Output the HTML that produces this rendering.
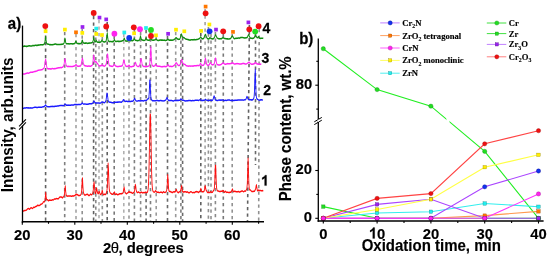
<!DOCTYPE html>
<html><head><meta charset="utf-8"><style>
html,body{margin:0;padding:0;background:#fff;}
svg{display:block;}
svg{will-change:transform;}
.tk{font-family:"Liberation Sans",sans-serif;font-weight:bold;font-size:14.8px;fill:#000;stroke:#000;stroke-width:0.15px;}
.lb{font-family:"Liberation Sans",sans-serif;font-weight:bold;font-size:13px;fill:#000;stroke:#000;stroke-width:0.25px;}
.lg{font-family:"Liberation Serif",serif;font-weight:bold;font-size:8.6px;fill:#000;stroke:#000;stroke-width:0.15px;}
</style></head><body>
<svg width="550" height="261" viewBox="0 0 550 261">
<rect width="550" height="261" fill="#fff"/>
<line x1="45.6" y1="29" x2="45.6" y2="221" stroke="#000" stroke-opacity="0.62" stroke-width="1.6" stroke-dasharray="3.2,3.3" stroke-dashoffset="0"/>
<line x1="64.7" y1="32" x2="64.7" y2="221" stroke="#000" stroke-opacity="0.50" stroke-width="1.6" stroke-dasharray="3.2,3.3" stroke-dashoffset="0"/>
<line x1="76.0" y1="34" x2="76.0" y2="221" stroke="#000" stroke-opacity="0.37" stroke-width="1.6" stroke-dasharray="3.2,3.3" stroke-dashoffset="0"/>
<line x1="82.2" y1="29" x2="82.2" y2="221" stroke="#000" stroke-opacity="0.43" stroke-width="1.6" stroke-dasharray="3.2,3.3" stroke-dashoffset="0"/>
<line x1="93.6" y1="16" x2="93.6" y2="221" stroke="#000" stroke-opacity="0.62" stroke-width="1.6" stroke-dasharray="3.2,3.3" stroke-dashoffset="0"/>
<line x1="95.8" y1="31" x2="95.8" y2="221" stroke="#000" stroke-opacity="0.46" stroke-width="1.6" stroke-dasharray="3.2,3.3" stroke-dashoffset="0"/>
<line x1="99.0" y1="20" x2="99.0" y2="221" stroke="#000" stroke-opacity="0.31" stroke-width="1.6" stroke-dasharray="3.2,3.3" stroke-dashoffset="0"/>
<line x1="102.3" y1="37" x2="102.3" y2="221" stroke="#000" stroke-opacity="0.43" stroke-width="1.6" stroke-dasharray="3.2,3.3" stroke-dashoffset="0"/>
<line x1="107.2" y1="22" x2="107.2" y2="221" stroke="#000" stroke-opacity="0.62" stroke-width="1.6" stroke-dasharray="3.2,3.3" stroke-dashoffset="0"/>
<line x1="114.2" y1="36" x2="114.2" y2="221" stroke="#000" stroke-opacity="0.53" stroke-width="1.6" stroke-dasharray="3.2,3.3" stroke-dashoffset="0"/>
<line x1="123.8" y1="34" x2="123.8" y2="221" stroke="#000" stroke-opacity="0.31" stroke-width="1.6" stroke-dasharray="3.2,3.3" stroke-dashoffset="0"/>
<line x1="129.0" y1="40" x2="129.0" y2="221" stroke="#000" stroke-opacity="0.40" stroke-width="1.6" stroke-dasharray="3.2,3.3" stroke-dashoffset="0"/>
<line x1="134.4" y1="30" x2="134.4" y2="221" stroke="#000" stroke-opacity="0.50" stroke-width="1.6" stroke-dasharray="3.2,3.3" stroke-dashoffset="0"/>
<line x1="140.6" y1="32" x2="140.6" y2="221" stroke="#000" stroke-opacity="0.46" stroke-width="1.6" stroke-dasharray="3.2,3.3" stroke-dashoffset="0"/>
<line x1="146.1" y1="30" x2="146.1" y2="221" stroke="#000" stroke-opacity="0.59" stroke-width="1.6" stroke-dasharray="3.2,3.3" stroke-dashoffset="0"/>
<line x1="150.5" y1="32" x2="150.5" y2="221" stroke="#000" stroke-opacity="0.50" stroke-width="1.6" stroke-dasharray="3.2,3.3" stroke-dashoffset="0"/>
<line x1="156.2" y1="37" x2="156.2" y2="221" stroke="#000" stroke-opacity="0.40" stroke-width="1.6" stroke-dasharray="3.2,3.3" stroke-dashoffset="0"/>
<line x1="167.5" y1="36" x2="167.5" y2="221" stroke="#000" stroke-opacity="0.59" stroke-width="1.6" stroke-dasharray="3.2,3.3" stroke-dashoffset="0"/>
<line x1="175.7" y1="32" x2="175.7" y2="221" stroke="#000" stroke-opacity="0.40" stroke-width="1.6" stroke-dasharray="3.2,3.3" stroke-dashoffset="0"/>
<line x1="180.9" y1="34" x2="180.9" y2="221" stroke="#000" stroke-opacity="0.50" stroke-width="1.6" stroke-dasharray="3.2,3.3" stroke-dashoffset="0"/>
<line x1="182.6" y1="34" x2="182.6" y2="221" stroke="#000" stroke-opacity="0.59" stroke-width="1.6" stroke-dasharray="3.2,3.3" stroke-dashoffset="3.2"/>
<line x1="200.8" y1="33" x2="200.8" y2="221" stroke="#000" stroke-opacity="0.62" stroke-width="1.6" stroke-dasharray="3.2,3.3" stroke-dashoffset="0"/>
<line x1="205.1" y1="9" x2="205.1" y2="188" stroke="#000" stroke-opacity="0.37" stroke-width="1.6" stroke-dasharray="3.2,3.3" stroke-dashoffset="0"/>
<line x1="208.4" y1="27" x2="208.4" y2="221" stroke="#000" stroke-opacity="0.43" stroke-width="1.6" stroke-dasharray="3.2,3.3" stroke-dashoffset="0"/>
<line x1="211.0" y1="34" x2="211.0" y2="221" stroke="#000" stroke-opacity="0.43" stroke-width="1.6" stroke-dasharray="3.2,3.3" stroke-dashoffset="0"/>
<line x1="215.4" y1="32" x2="215.4" y2="221" stroke="#000" stroke-opacity="0.46" stroke-width="1.6" stroke-dasharray="3.2,3.3" stroke-dashoffset="0"/>
<line x1="223.3" y1="34" x2="223.3" y2="221" stroke="#000" stroke-opacity="0.53" stroke-width="1.6" stroke-dasharray="3.2,3.3" stroke-dashoffset="0"/>
<line x1="232.2" y1="34" x2="232.2" y2="221" stroke="#000" stroke-opacity="0.43" stroke-width="1.6" stroke-dasharray="3.2,3.3" stroke-dashoffset="0"/>
<line x1="249.4" y1="25" x2="247.5" y2="221" stroke="#000" stroke-opacity="0.62" stroke-width="1.6" stroke-dasharray="3.2,3.3" stroke-dashoffset="0"/>
<line x1="255.5" y1="34" x2="255.5" y2="165" stroke="#000" stroke-opacity="0.59" stroke-width="1.6" stroke-dasharray="3.2,3.3" stroke-dashoffset="0"/>
<line x1="259.2" y1="29" x2="258.7" y2="221" stroke="#000" stroke-opacity="0.43" stroke-width="1.6" stroke-dasharray="3.2,3.3" stroke-dashoffset="0"/>
<g transform="scale(0.6,1)"><polyline points="37.50,210.91 38.17,210.97 38.83,211.01 39.50,210.89 40.17,210.82 40.83,210.55 41.50,210.39 42.17,210.47 42.83,210.37 43.50,210.24 44.17,210.11 44.83,209.69 45.50,209.20 46.17,208.83 46.83,208.62 47.50,208.47 48.17,208.78 48.83,209.21 49.50,209.18 50.17,208.61 50.83,208.05 51.50,207.90 52.17,207.77 52.83,207.88 53.50,208.21 54.17,208.43 54.83,208.05 55.50,207.54 56.17,207.30 56.83,207.35 57.50,207.44 58.17,207.10 58.83,206.68 59.50,206.51 60.17,206.41 60.83,206.31 61.50,205.91 62.17,205.50 62.83,205.21 63.50,205.42 64.17,205.55 64.83,205.62 65.50,205.61 66.17,205.31 66.83,205.02 67.50,204.53 68.17,204.29 68.83,204.19 69.50,203.90 70.17,203.72 70.83,203.37 71.50,202.77 72.17,202.09 72.83,201.77 73.50,201.84 74.17,201.79 74.83,200.56 75.50,197.07 76.17,192.46 76.83,196.25 77.50,199.28 78.17,199.70 78.83,199.69 79.50,199.87 80.17,200.50 80.83,200.81 81.50,200.47 82.17,200.32 82.83,200.06 83.50,200.26 84.17,200.29 84.83,200.33 85.50,200.37 86.17,200.20 86.83,200.06 87.50,199.71 88.17,199.89 88.83,199.88 89.50,199.73 90.17,199.20 90.83,198.92 91.50,199.11 92.17,199.09 92.83,199.06 93.50,198.80 94.17,198.55 94.83,198.63 95.50,198.82 96.17,198.87 96.83,198.82 97.50,198.71 98.17,198.08 98.83,197.51 99.50,197.19 100.17,197.11 100.83,197.07 101.50,196.97 102.17,197.02 102.83,197.27 103.50,197.51 104.17,197.91 104.83,197.33 105.50,196.94 106.17,196.57 106.83,196.03 107.50,194.01 108.17,188.71 108.83,186.08 109.50,191.27 110.17,194.69 110.83,195.80 111.50,196.11 112.17,196.16 112.83,196.05 113.50,196.00 114.17,196.00 114.83,195.99 115.50,196.09 116.17,196.09 116.83,196.11 117.50,195.99 118.17,196.10 118.83,196.31 119.50,196.33 120.17,195.99 120.83,195.87 121.50,195.88 122.17,196.04 122.83,195.96 123.50,195.77 124.17,195.61 124.83,195.50 125.50,195.36 126.17,194.59 126.83,194.03 127.50,194.56 128.17,194.72 128.83,194.64 129.50,194.60 130.17,195.19 130.83,195.48 131.50,195.54 132.17,195.52 132.83,195.53 133.50,195.38 134.17,195.10 134.83,194.53 135.50,193.46 136.17,190.08 136.83,181.85 137.50,178.07 138.17,186.40 138.83,191.73 139.50,193.47 140.17,194.37 140.83,195.08 141.50,195.06 142.17,195.04 142.83,194.90 143.50,194.63 144.17,194.46 144.83,194.34 145.50,194.20 146.17,194.47 146.83,194.96 147.50,195.43 148.17,195.36 148.83,195.54 149.50,195.18 150.17,194.62 150.83,194.10 151.50,194.34 152.17,194.68 152.83,194.81 153.50,194.28 154.17,193.71 154.83,192.65 155.50,189.70 156.17,184.13 156.83,182.02 157.50,187.16 158.17,191.54 158.83,193.20 159.50,193.28 160.17,191.39 160.83,188.11 161.50,189.23 162.17,191.86 162.83,193.09 163.50,193.74 164.17,193.52 164.83,191.77 165.50,191.47 166.17,192.97 166.83,194.13 167.50,194.52 168.17,194.33 168.83,193.89 169.50,192.86 170.17,190.55 170.83,190.86 171.50,193.64 172.17,194.56 172.83,194.73 173.50,194.52 174.17,194.15 174.83,194.34 175.50,194.43 176.17,194.24 176.83,193.48 177.50,192.56 178.17,191.06 178.83,186.68 179.50,175.93 180.17,163.27 180.83,169.24 181.50,182.54 182.17,189.46 182.83,191.65 183.50,192.48 184.17,193.16 184.83,193.38 185.50,193.70 186.17,194.01 186.83,194.18 187.50,194.33 188.17,194.10 188.83,193.75 189.50,193.37 190.17,192.70 190.83,192.06 191.50,193.25 192.17,194.33 192.83,194.54 193.50,194.28 194.17,193.86 194.83,194.20 195.50,194.58 196.17,194.82 196.83,194.58 197.50,194.60 198.17,194.19 198.83,193.94 199.50,193.68 200.17,193.67 200.83,193.68 201.50,193.68 202.17,193.69 202.83,193.57 203.50,193.63 204.17,193.37 204.83,192.97 205.50,191.74 206.17,189.14 206.83,187.13 207.50,189.13 208.17,191.55 208.83,192.67 209.50,193.14 210.17,193.49 210.83,193.73 211.50,193.44 212.17,193.12 212.83,192.82 213.50,192.68 214.17,192.18 214.83,191.66 215.50,191.80 216.17,192.35 216.83,192.42 217.50,192.34 218.17,192.25 218.83,192.45 219.50,192.68 220.17,193.08 220.83,193.34 221.50,193.05 222.17,192.70 222.83,192.43 223.50,192.18 224.17,191.08 224.83,187.98 225.50,184.51 226.17,185.80 226.83,189.50 227.50,191.54 228.17,192.08 228.83,192.54 229.50,192.50 230.17,192.19 230.83,191.90 231.50,192.26 232.17,192.58 232.83,192.84 233.50,192.76 234.17,192.86 234.83,192.54 235.50,192.15 236.17,192.17 236.83,192.58 237.50,192.90 238.17,192.64 238.83,192.65 239.50,192.62 240.17,192.61 240.83,192.77 241.50,192.51 242.17,192.24 242.83,192.29 243.50,192.52 244.17,192.52 244.83,192.53 245.50,192.30 246.17,191.43 246.83,189.45 247.50,184.19 248.17,173.36 248.83,154.41 249.50,131.19 250.17,114.11 250.83,114.56 251.50,132.12 252.17,155.69 252.83,174.40 253.50,184.95 254.17,189.24 254.83,190.96 255.50,191.61 256.17,191.91 256.83,192.10 257.50,192.17 258.17,191.85 258.83,191.09 259.50,190.71 260.17,191.44 260.83,192.01 261.50,192.08 262.17,192.14 262.83,192.24 263.50,192.22 264.17,192.22 264.83,192.51 265.50,192.62 266.17,192.53 266.83,192.35 267.50,192.21 268.17,192.26 268.83,192.23 269.50,192.32 270.17,192.59 270.83,192.93 271.50,192.34 272.17,191.94 272.83,191.80 273.50,192.10 274.17,192.37 274.83,192.46 275.50,192.41 276.17,192.16 276.83,191.67 277.50,190.89 278.17,189.14 278.83,183.26 279.50,174.81 280.17,179.16 280.83,187.72 281.50,190.77 282.17,191.22 282.83,191.44 283.50,191.59 284.17,191.60 284.83,192.00 285.50,192.04 286.17,192.20 286.83,192.45 287.50,192.55 288.17,192.29 288.83,191.87 289.50,191.70 290.17,191.79 290.83,192.02 291.50,191.85 292.17,191.71 292.83,190.93 293.50,189.59 294.17,189.76 294.83,191.22 295.50,191.84 296.17,192.19 296.83,192.46 297.50,192.67 298.17,192.19 298.83,191.85 299.50,191.67 300.17,191.51 300.83,190.98 301.50,189.61 302.17,186.81 302.83,185.75 303.50,188.72 304.17,191.21 304.83,191.99 305.50,192.07 306.17,191.86 306.83,191.94 307.50,191.75 308.17,191.78 308.83,191.76 309.50,191.86 310.17,191.93 310.83,192.24 311.50,192.10 312.17,191.96 312.83,191.87 313.50,192.28 314.17,192.76 314.83,192.63 315.50,192.70 316.17,192.50 316.83,192.17 317.50,191.82 318.17,191.72 318.83,191.89 319.50,192.07 320.17,192.40 320.83,192.66 321.50,192.63 322.17,192.41 322.83,192.41 323.50,192.47 324.17,192.67 324.83,192.33 325.50,192.00 326.17,191.78 326.83,191.75 327.50,191.59 328.17,191.70 328.83,191.72 329.50,191.93 330.17,192.15 330.83,192.54 331.50,192.05 332.17,191.77 332.83,191.57 333.50,191.11 334.17,189.38 334.83,188.48 335.50,190.58 336.17,191.52 336.83,191.76 337.50,191.79 338.17,191.67 338.83,191.67 339.50,191.59 340.17,191.17 340.83,189.68 341.50,186.29 342.17,185.90 342.83,188.59 343.50,190.14 344.17,190.78 344.83,191.45 345.50,192.10 346.17,192.53 346.83,192.44 347.50,192.37 348.17,192.46 348.83,192.62 349.50,192.46 350.17,192.00 350.83,191.69 351.50,192.11 352.17,192.22 352.83,192.38 353.50,192.25 354.17,192.19 354.83,191.55 355.50,190.89 356.17,190.33 356.83,189.58 357.50,186.92 358.17,178.60 358.83,165.59 359.50,165.42 360.17,178.51 360.83,186.95 361.50,189.67 362.17,190.71 362.83,190.89 363.50,191.10 364.17,191.09 364.83,191.35 365.50,191.42 366.17,191.47 366.83,191.46 367.50,191.44 368.17,191.25 368.83,191.21 369.50,191.25 370.17,191.36 370.83,191.34 371.50,190.42 372.17,190.61 372.83,191.24 373.50,191.91 374.17,192.29 374.83,191.92 375.50,191.34 376.17,191.42 376.83,191.97 377.50,192.39 378.17,192.36 378.83,192.26 379.50,192.19 380.17,192.37 380.83,192.49 381.50,192.38 382.17,192.37 382.83,192.47 383.50,192.32 384.17,192.30 384.83,191.98 385.50,191.65 386.17,190.92 386.83,189.87 387.50,189.12 388.17,190.40 388.83,191.52 389.50,191.75 390.17,191.54 390.83,191.14 391.50,191.21 392.17,191.39 392.83,191.52 393.50,191.75 394.17,191.86 394.83,191.83 395.50,191.66 396.17,191.69 396.83,191.60 397.50,191.40 398.17,191.83 398.83,191.98 399.50,192.00 400.17,191.92 400.83,191.61 401.50,191.48 402.17,191.31 402.83,191.06 403.50,191.12 404.17,190.94 404.83,191.31 405.50,191.61 406.17,191.71 406.83,191.42 407.50,191.02 408.17,191.07 408.83,191.16 409.50,190.94 410.17,190.30 410.83,189.51 411.50,188.26 412.17,183.68 412.83,170.82 413.50,158.25 414.17,171.17 414.83,184.18 415.50,188.76 416.17,189.93 416.83,190.09 417.50,190.00 418.17,190.55 418.83,190.99 419.50,191.38 420.17,191.39 420.83,191.52 421.50,191.55 422.17,191.46 422.83,191.31 423.50,191.27 424.17,191.33 424.83,190.55 425.50,189.75 426.17,188.56 426.83,185.96 427.50,184.83 428.17,188.04 428.83,190.28 429.50,190.84 430.17,190.48 430.83,190.17 431.50,190.31 432.17,190.50 432.83,190.39 433.50,190.42 434.17,190.39 434.83,190.62 435.50,190.76 436.17,190.74 436.83,190.77 437.50,190.60 438.17,190.67 438.83,190.68" fill="none" stroke="#ff0e0e" stroke-width="1.5" stroke-linejoin="round"/></g>
<g transform="scale(0.6,1)"><polyline points="37.50,108.51 38.17,108.34 38.83,108.38 39.50,108.18 40.17,108.12 40.83,108.07 41.50,108.09 42.17,108.05 42.83,107.89 43.50,107.81 44.17,107.80 44.83,107.74 45.50,107.86 46.17,107.99 46.83,107.98 47.50,107.85 48.17,108.02 48.83,107.91 49.50,108.02 50.17,107.88 50.83,107.85 51.50,107.93 52.17,108.01 52.83,107.93 53.50,107.97 54.17,107.89 54.83,107.78 55.50,107.63 56.17,107.54 56.83,107.39 57.50,107.32 58.17,107.33 58.83,107.33 59.50,107.29 60.17,107.29 60.83,107.39 61.50,107.49 62.17,107.51 62.83,107.40 63.50,107.36 64.17,107.33 64.83,107.25 65.50,107.12 66.17,107.22 66.83,107.33 67.50,107.29 68.17,107.30 68.83,107.24 69.50,107.16 70.17,107.09 70.83,106.91 71.50,106.87 72.17,106.66 72.83,106.74 73.50,106.52 74.17,106.30 74.83,105.94 75.50,105.23 76.17,104.97 76.83,105.57 77.50,106.10 78.17,106.37 78.83,106.54 79.50,106.67 80.17,106.65 80.83,106.85 81.50,106.70 82.17,106.70 82.83,106.70 83.50,106.64 84.17,106.52 84.83,106.46 85.50,106.41 86.17,106.38 86.83,106.32 87.50,106.51 88.17,106.48 88.83,106.38 89.50,106.47 90.17,106.48 90.83,106.48 91.50,106.25 92.17,106.18 92.83,106.20 93.50,106.13 94.17,106.16 94.83,106.08 95.50,105.92 96.17,105.89 96.83,105.91 97.50,105.96 98.17,105.82 98.83,105.76 99.50,105.61 100.17,105.62 100.83,105.46 101.50,105.61 102.17,105.50 102.83,105.52 103.50,105.48 104.17,105.56 104.83,105.64 105.50,105.70 106.17,105.54 106.83,105.24 107.50,104.78 108.17,104.15 108.83,104.19 109.50,104.60 110.17,104.96 110.83,105.21 111.50,105.08 112.17,105.16 112.83,105.15 113.50,105.08 114.17,105.16 114.83,105.19 115.50,105.17 116.17,105.19 116.83,105.12 117.50,105.13 118.17,105.14 118.83,105.03 119.50,104.91 120.17,105.03 120.83,104.97 121.50,105.15 122.17,105.18 122.83,104.84 123.50,104.82 124.17,104.54 124.83,104.51 125.50,104.50 126.17,104.47 126.83,104.57 127.50,104.56 128.17,104.66 128.83,104.63 129.50,104.43 130.17,104.44 130.83,104.41 131.50,104.42 132.17,104.48 132.83,104.52 133.50,104.56 134.17,104.43 134.83,104.28 135.50,104.08 136.17,103.68 136.83,103.20 137.50,103.10 138.17,103.64 138.83,103.92 139.50,104.16 140.17,104.12 140.83,103.96 141.50,103.97 142.17,104.01 142.83,104.13 143.50,104.24 144.17,104.26 144.83,104.21 145.50,104.12 146.17,104.25 146.83,104.23 147.50,104.08 148.17,104.01 148.83,103.85 149.50,103.87 150.17,103.72 150.83,103.63 151.50,103.76 152.17,103.79 152.83,103.62 153.50,103.67 154.17,103.42 154.83,102.93 155.50,102.23 156.17,101.25 156.83,101.18 157.50,101.88 158.17,102.42 158.83,102.89 159.50,103.01 160.17,102.92 160.83,102.89 161.50,102.97 162.17,102.91 162.83,102.94 163.50,102.99 164.17,103.10 164.83,103.03 165.50,103.04 166.17,103.16 166.83,103.10 167.50,102.99 168.17,102.91 168.83,102.57 169.50,102.06 170.17,101.93 170.83,102.09 171.50,102.29 172.17,102.36 172.83,102.47 173.50,102.69 174.17,102.69 174.83,102.34 175.50,101.96 176.17,101.23 176.83,99.67 177.50,96.82 178.17,93.36 178.83,93.38 179.50,96.86 180.17,100.00 180.83,101.46 181.50,102.05 182.17,102.09 182.83,102.19 183.50,102.22 184.17,102.29 184.83,102.34 185.50,102.38 186.17,102.50 186.83,102.71 187.50,102.68 188.17,102.73 188.83,102.65 189.50,102.57 190.17,102.53 190.83,102.47 191.50,102.36 192.17,102.29 192.83,102.26 193.50,102.19 194.17,102.19 194.83,102.16 195.50,102.25 196.17,102.04 196.83,102.16 197.50,102.01 198.17,101.98 198.83,101.94 199.50,102.08 200.17,101.94 200.83,102.11 201.50,102.17 202.17,102.18 202.83,101.94 203.50,101.76 204.17,101.22 204.83,100.56 205.50,99.89 206.17,99.72 206.83,100.51 207.50,101.07 208.17,101.23 208.83,101.35 209.50,101.45 210.17,101.29 210.83,101.33 211.50,101.27 212.17,101.42 212.83,101.40 213.50,101.46 214.17,101.44 214.83,101.54 215.50,101.51 216.17,101.44 216.83,101.46 217.50,101.40 218.17,101.41 218.83,101.24 219.50,101.23 220.17,101.24 220.83,101.18 221.50,101.06 222.17,100.78 222.83,100.24 223.50,99.17 224.17,98.46 224.83,98.75 225.50,99.78 226.17,100.47 226.83,100.87 227.50,101.03 228.17,101.13 228.83,101.09 229.50,100.96 230.17,100.84 230.83,100.67 231.50,100.70 232.17,100.89 232.83,100.87 233.50,100.85 234.17,100.93 234.83,100.83 235.50,100.86 236.17,100.84 236.83,100.78 237.50,100.73 238.17,100.77 238.83,100.90 239.50,100.88 240.17,100.62 240.83,100.47 241.50,100.43 242.17,100.56 242.83,100.45 243.50,100.41 244.17,100.41 244.83,100.00 245.50,99.40 246.17,98.98 246.83,98.85 247.50,98.66 248.17,97.35 248.83,91.55 249.50,80.30 250.17,80.42 250.83,91.67 251.50,97.62 252.17,99.12 252.83,100.00 253.50,100.36 254.17,100.76 254.83,100.74 255.50,100.80 256.17,100.73 256.83,100.73 257.50,100.79 258.17,100.88 258.83,100.75 259.50,100.65 260.17,100.60 260.83,100.47 261.50,100.50 262.17,100.54 262.83,100.52 263.50,100.66 264.17,100.73 264.83,100.81 265.50,100.76 266.17,100.71 266.83,100.57 267.50,100.59 268.17,100.53 268.83,100.63 269.50,100.62 270.17,100.74 270.83,100.86 271.50,100.93 272.17,100.90 272.83,100.87 273.50,100.81 274.17,100.80 274.83,100.53 275.50,100.19 276.17,100.09 276.83,99.53 277.50,98.55 278.17,97.56 278.83,97.84 279.50,99.20 280.17,99.86 280.83,100.30 281.50,100.57 282.17,100.44 282.83,100.51 283.50,100.48 284.17,100.39 284.83,100.54 285.50,100.50 286.17,100.47 286.83,100.64 287.50,100.65 288.17,100.90 288.83,101.05 289.50,100.92 290.17,100.62 290.83,100.61 291.50,100.48 292.17,100.48 292.83,100.41 293.50,100.40 294.17,100.36 294.83,100.45 295.50,100.34 296.17,100.50 296.83,100.29 297.50,100.45 298.17,100.31 298.83,100.26 299.50,100.28 300.17,99.95 300.83,99.44 301.50,98.88 302.17,99.12 302.83,99.57 303.50,100.05 304.17,100.15 304.83,100.36 305.50,100.23 306.17,100.28 306.83,100.56 307.50,100.75 308.17,100.79 308.83,100.90 309.50,100.88 310.17,100.86 310.83,100.87 311.50,100.90 312.17,100.78 312.83,100.79 313.50,100.74 314.17,100.51 314.83,100.41 315.50,100.39 316.17,100.43 316.83,100.50 317.50,100.60 318.17,100.75 318.83,100.77 319.50,100.72 320.17,100.66 320.83,100.51 321.50,100.49 322.17,100.59 322.83,100.64 323.50,100.60 324.17,100.51 324.83,100.42 325.50,100.36 326.17,100.36 326.83,100.25 327.50,100.31 328.17,100.24 328.83,100.24 329.50,100.30 330.17,100.26 330.83,100.43 331.50,100.38 332.17,100.11 332.83,99.82 333.50,99.61 334.17,99.90 334.83,100.20 335.50,100.34 336.17,100.45 336.83,100.45 337.50,100.45 338.17,100.31 338.83,100.42 339.50,100.35 340.17,100.28 340.83,100.17 341.50,99.83 342.17,99.42 342.83,99.44 343.50,99.84 344.17,100.16 344.83,100.37 345.50,100.32 346.17,100.53 346.83,100.57 347.50,100.57 348.17,100.50 348.83,100.21 349.50,100.21 350.17,100.30 350.83,100.20 351.50,100.34 352.17,100.44 352.83,100.32 353.50,100.41 354.17,100.27 354.83,99.72 355.50,98.64 356.17,97.02 356.83,96.00 357.50,96.81 358.17,98.25 358.83,99.42 359.50,100.10 360.17,100.28 360.83,100.33 361.50,100.54 362.17,100.42 362.83,100.38 363.50,100.39 364.17,100.13 364.83,100.01 365.50,100.19 366.17,100.09 366.83,100.10 367.50,100.23 368.17,100.08 368.83,100.20 369.50,100.06 370.17,100.03 370.83,99.98 371.50,100.12 372.17,100.29 372.83,100.43 373.50,100.55 374.17,100.40 374.83,100.40 375.50,100.31 376.17,100.36 376.83,100.45 377.50,100.39 378.17,100.34 378.83,100.18 379.50,100.03 380.17,100.11 380.83,100.08 381.50,100.06 382.17,100.01 382.83,100.07 383.50,100.29 384.17,100.37 384.83,100.52 385.50,100.38 386.17,100.37 386.83,100.52 387.50,100.40 388.17,100.58 388.83,100.44 389.50,100.45 390.17,100.28 390.83,100.39 391.50,100.25 392.17,100.21 392.83,100.24 393.50,100.27 394.17,100.24 394.83,100.25 395.50,100.26 396.17,100.02 396.83,100.06 397.50,99.93 398.17,99.97 398.83,100.08 399.50,100.09 400.17,100.10 400.83,100.12 401.50,100.07 402.17,99.99 402.83,99.92 403.50,99.89 404.17,99.99 404.83,99.99 405.50,100.13 406.17,100.06 406.83,99.91 407.50,99.83 408.17,99.87 408.83,99.72 409.50,99.45 410.17,98.86 410.83,97.74 411.50,96.55 412.17,96.94 412.83,98.18 413.50,99.00 414.17,99.51 414.83,99.65 415.50,99.72 416.17,99.73 416.83,99.76 417.50,99.84 418.17,99.76 418.83,99.93 419.50,99.77 420.17,99.91 420.83,99.71 421.50,99.64 422.17,99.19 422.83,98.50 423.50,96.86 424.17,90.78 424.83,76.26 425.50,69.49 426.17,84.44 426.83,94.57 427.50,97.91 428.17,98.76 428.83,99.25 429.50,99.36 430.17,99.66 430.83,99.91 431.50,100.17 432.17,100.16 432.83,100.12 433.50,99.96 434.17,99.79 434.83,99.95 435.50,99.78 436.17,99.77 436.83,100.00 437.50,99.98 438.17,100.13" fill="none" stroke="#1a1aff" stroke-width="1.5" stroke-linejoin="round"/></g>
<g transform="scale(0.6,1)"><polyline points="37.50,74.07 38.17,74.12 38.83,74.01 39.50,73.89 40.17,73.91 40.83,73.88 41.50,73.92 42.17,73.78 42.83,73.51 43.50,73.43 44.17,73.24 44.83,73.20 45.50,73.10 46.17,73.07 46.83,73.16 47.50,73.16 48.17,73.11 48.83,72.84 49.50,72.71 50.17,72.44 50.83,72.29 51.50,72.33 52.17,72.29 52.83,72.31 53.50,72.24 54.17,72.19 54.83,71.93 55.50,71.90 56.17,71.85 56.83,71.67 57.50,71.57 58.17,71.56 58.83,71.32 59.50,71.38 60.17,71.23 60.83,71.11 61.50,70.92 62.17,70.75 62.83,70.42 63.50,70.28 64.17,70.15 64.83,70.22 65.50,70.12 66.17,70.00 66.83,70.01 67.50,69.89 68.17,69.87 68.83,69.75 69.50,69.84 70.17,69.71 70.83,69.41 71.50,68.94 72.17,68.71 72.83,68.27 73.50,67.79 74.17,66.47 74.83,63.71 75.50,60.34 76.17,59.27 76.83,61.99 77.50,65.27 78.17,67.49 78.83,68.40 79.50,68.83 80.17,68.83 80.83,68.76 81.50,68.98 82.17,68.82 82.83,68.86 83.50,68.97 84.17,68.84 84.83,68.93 85.50,68.92 86.17,68.73 86.83,68.55 87.50,68.54 88.17,68.62 88.83,68.64 89.50,68.72 90.17,68.63 90.83,68.61 91.50,68.70 92.17,68.66 92.83,68.43 93.50,68.43 94.17,68.34 94.83,68.30 95.50,68.02 96.17,67.88 96.83,67.94 97.50,67.76 98.17,67.86 98.83,67.69 99.50,67.71 100.17,67.61 100.83,67.52 101.50,67.69 102.17,67.67 102.83,67.56 103.50,67.32 104.17,67.22 104.83,66.92 105.50,66.48 106.17,65.75 106.83,63.88 107.50,61.18 108.17,58.76 108.83,59.70 109.50,62.65 110.17,64.80 110.83,65.88 111.50,66.32 112.17,66.50 112.83,66.42 113.50,66.51 114.17,66.35 114.83,66.50 115.50,66.43 116.17,66.52 116.83,66.47 117.50,66.50 118.17,66.54 118.83,66.63 119.50,66.51 120.17,66.47 120.83,66.51 121.50,66.42 122.17,66.32 122.83,66.24 123.50,66.08 124.17,65.98 124.83,65.82 125.50,65.41 126.17,64.86 126.83,64.56 127.50,65.07 128.17,65.69 128.83,66.08 129.50,66.14 130.17,66.34 130.83,66.23 131.50,66.21 132.17,66.16 132.83,65.92 133.50,66.04 134.17,65.94 134.83,65.41 135.50,64.19 136.17,62.03 136.83,59.15 137.50,58.16 138.17,60.30 138.83,62.95 139.50,64.46 140.17,65.21 140.83,65.53 141.50,65.72 142.17,65.71 142.83,65.98 143.50,65.88 144.17,66.13 144.83,66.04 145.50,66.21 146.17,66.20 146.83,66.18 147.50,66.02 148.17,66.05 148.83,66.05 149.50,66.23 150.17,66.15 150.83,66.21 151.50,66.02 152.17,65.76 152.83,65.73 153.50,65.27 154.17,64.43 154.83,62.38 155.50,58.22 156.17,55.03 156.83,57.75 157.50,61.16 158.17,62.20 158.83,61.96 159.50,61.49 160.17,61.57 160.83,62.20 161.50,62.95 162.17,63.44 162.83,63.84 163.50,64.34 164.17,65.12 164.83,65.51 165.50,65.81 166.17,65.92 166.83,65.97 167.50,65.85 168.17,65.80 168.83,65.62 169.50,65.10 170.17,64.83 170.83,65.07 171.50,65.33 172.17,65.77 172.83,65.95 173.50,66.14 174.17,66.07 174.83,65.93 175.50,65.64 176.17,65.06 176.83,64.29 177.50,62.26 178.17,58.52 178.83,54.35 179.50,54.27 180.17,58.24 180.83,62.05 181.50,64.16 182.17,65.31 182.83,65.76 183.50,66.02 184.17,65.96 184.83,66.07 185.50,66.34 186.17,66.30 186.83,66.43 187.50,66.34 188.17,66.11 188.83,65.77 189.50,65.25 190.17,64.69 190.83,64.41 191.50,65.02 192.17,65.55 192.83,66.01 193.50,66.16 194.17,66.35 194.83,66.50 195.50,66.44 196.17,66.66 196.83,66.60 197.50,66.54 198.17,66.53 198.83,66.35 199.50,66.26 200.17,66.29 200.83,66.27 201.50,66.29 202.17,66.11 202.83,65.99 203.50,65.82 204.17,65.31 204.83,64.22 205.50,62.07 206.17,59.92 206.83,59.91 207.50,62.15 208.17,64.37 208.83,65.41 209.50,66.08 210.17,66.24 210.83,66.34 211.50,66.43 212.17,66.39 212.83,66.26 213.50,65.98 214.17,65.70 214.83,65.35 215.50,65.45 216.17,65.96 216.83,66.58 217.50,66.69 218.17,66.68 218.83,66.70 219.50,66.78 220.17,66.54 220.83,66.43 221.50,66.32 222.17,66.21 222.83,66.18 223.50,65.92 224.17,65.06 224.83,63.62 225.50,62.41 226.17,62.80 226.83,64.25 227.50,65.31 228.17,65.80 228.83,66.15 229.50,66.41 230.17,66.44 230.83,66.46 231.50,66.31 232.17,65.79 232.83,65.18 233.50,63.91 234.17,61.23 234.83,58.69 235.50,58.70 236.17,61.36 236.83,64.04 237.50,65.32 238.17,66.10 238.83,66.25 239.50,66.49 240.17,66.55 240.83,66.43 241.50,66.54 242.17,66.57 242.83,66.77 243.50,66.67 244.17,66.59 244.83,66.51 245.50,66.56 246.17,66.35 246.83,66.25 247.50,66.11 248.17,65.86 248.83,65.37 249.50,64.32 250.17,60.29 250.83,51.10 251.50,46.93 252.17,56.42 252.83,62.98 253.50,65.16 254.17,65.64 254.83,66.07 255.50,66.22 256.17,66.22 256.83,66.14 257.50,65.83 258.17,65.46 258.83,64.67 259.50,64.39 260.17,64.86 260.83,65.47 261.50,66.01 262.17,66.05 262.83,66.22 263.50,66.30 264.17,66.32 264.83,66.36 265.50,66.34 266.17,66.29 266.83,66.41 267.50,66.49 268.17,66.57 268.83,66.64 269.50,66.86 270.17,66.67 270.83,66.61 271.50,66.65 272.17,66.62 272.83,66.49 273.50,66.33 274.17,66.54 274.83,66.45 275.50,66.56 276.17,66.70 276.83,66.60 277.50,66.48 278.17,66.10 278.83,65.74 279.50,65.03 280.17,64.68 280.83,65.36 281.50,65.99 282.17,66.22 282.83,66.39 283.50,66.42 284.17,66.22 284.83,66.23 285.50,66.45 286.17,66.50 286.83,66.64 287.50,66.41 288.17,66.19 288.83,65.91 289.50,65.68 290.17,65.57 290.83,65.21 291.50,64.67 292.17,64.02 292.83,63.27 293.50,62.80 294.17,63.03 294.83,63.47 295.50,64.14 296.17,64.90 296.83,65.24 297.50,65.54 298.17,65.55 298.83,65.44 299.50,65.21 300.17,64.70 300.83,63.48 301.50,61.94 302.17,60.09 302.83,59.65 303.50,60.57 304.17,62.11 304.83,63.14 305.50,63.77 306.17,64.17 306.83,64.22 307.50,64.35 308.17,64.41 308.83,64.77 309.50,65.16 310.17,65.63 310.83,65.70 311.50,65.88 312.17,66.05 312.83,66.05 313.50,66.06 314.17,66.26 314.83,66.12 315.50,66.09 316.17,66.04 316.83,66.08 317.50,66.15 318.17,66.02 318.83,66.00 319.50,66.13 320.17,66.04 320.83,66.09 321.50,66.23 322.17,65.98 322.83,65.93 323.50,65.71 324.17,65.80 324.83,65.85 325.50,65.77 326.17,65.69 326.83,65.72 327.50,65.68 328.17,65.52 328.83,65.55 329.50,65.56 330.17,65.58 330.83,65.59 331.50,65.67 332.17,65.47 332.83,64.99 333.50,64.05 334.17,63.46 334.83,63.86 335.50,64.62 336.17,65.17 336.83,65.50 337.50,65.36 338.17,65.24 338.83,65.19 339.50,64.99 340.17,64.35 340.83,62.83 341.50,60.41 342.17,58.36 342.83,59.08 343.50,61.58 344.17,63.50 344.83,64.50 345.50,65.01 346.17,65.17 346.83,65.22 347.50,65.20 348.17,64.99 348.83,64.58 349.50,63.72 350.17,63.08 350.83,62.52 351.50,63.03 352.17,63.98 352.83,64.50 353.50,64.67 354.17,64.68 354.83,64.74 355.50,64.65 356.17,64.42 356.83,63.86 357.50,62.75 358.17,60.51 358.83,58.25 359.50,58.23 360.17,60.59 360.83,62.88 361.50,64.01 362.17,64.44 362.83,64.69 363.50,64.78 364.17,64.94 364.83,65.07 365.50,65.04 366.17,64.93 366.83,64.76 367.50,64.66 368.17,64.49 368.83,64.30 369.50,64.11 370.17,63.67 370.83,63.39 371.50,63.06 372.17,63.04 372.83,63.31 373.50,63.60 374.17,63.97 374.83,64.14 375.50,64.30 376.17,64.27 376.83,64.03 377.50,63.96 378.17,63.83 378.83,63.67 379.50,63.60 380.17,63.71 380.83,63.68 381.50,63.74 382.17,63.84 382.83,63.85 383.50,63.76 384.17,63.61 384.83,63.57 385.50,63.42 386.17,63.31 386.83,63.01 387.50,62.76 388.17,62.93 388.83,63.16 389.50,63.68 390.17,63.98 390.83,63.99 391.50,64.10 392.17,63.97 392.83,63.84 393.50,63.85 394.17,63.72 394.83,63.57 395.50,63.53 396.17,63.65 396.83,63.67 397.50,63.78 398.17,63.81 398.83,63.89 399.50,63.93 400.17,63.90 400.83,63.94 401.50,64.03 402.17,63.93 402.83,63.75 403.50,63.72 404.17,63.58 404.83,63.44 405.50,63.37 406.17,63.47 406.83,63.53 407.50,63.82 408.17,63.83 408.83,64.08 409.50,64.08 410.17,64.04 410.83,63.86 411.50,63.71 412.17,63.34 412.83,63.12 413.50,62.68 414.17,62.50 414.83,62.20 415.50,62.30 416.17,62.76 416.83,63.22 417.50,63.61 418.17,63.89 418.83,64.13 419.50,64.10 420.17,64.16 420.83,64.25 421.50,64.05 422.17,63.97 422.83,64.02 423.50,63.77 424.17,63.52 424.83,63.05 425.50,62.60 426.17,62.60 426.83,63.25 427.50,63.62 428.17,63.95 428.83,63.87 429.50,63.90 430.17,63.91 430.83,64.11 431.50,64.14 432.17,64.22 432.83,64.14 433.50,64.20 434.17,64.18 434.83,64.11 435.50,64.26" fill="none" stroke="#ff22ee" stroke-width="1.5" stroke-linejoin="round"/></g>
<g transform="scale(0.6,1)"><polyline points="37.50,46.82 38.17,46.59 38.83,46.43 39.50,46.18 40.17,46.14 40.83,46.09 41.50,46.12 42.17,46.15 42.83,46.16 43.50,46.37 44.17,46.34 44.83,46.37 45.50,46.27 46.17,46.33 46.83,46.07 47.50,46.05 48.17,45.74 48.83,45.85 49.50,45.86 50.17,45.92 50.83,46.06 51.50,45.95 52.17,45.99 52.83,45.97 53.50,45.88 54.17,45.67 54.83,45.38 55.50,45.52 56.17,45.68 56.83,45.72 57.50,45.55 58.17,45.38 58.83,45.28 59.50,45.35 60.17,45.29 60.83,45.48 61.50,45.38 62.17,45.38 62.83,45.29 63.50,45.11 64.17,45.13 64.83,45.10 65.50,44.99 66.17,44.95 66.83,44.87 67.50,44.83 68.17,44.67 68.83,44.71 69.50,44.82 70.17,44.87 70.83,44.80 71.50,44.82 72.17,44.60 72.83,44.47 73.50,44.19 74.17,43.59 74.83,42.02 75.50,38.33 76.17,36.57 76.83,40.35 77.50,42.98 78.17,43.79 78.83,43.90 79.50,44.06 80.17,44.27 80.83,44.16 81.50,44.32 82.17,44.46 82.83,44.78 83.50,44.69 84.17,44.62 84.83,44.51 85.50,44.65 86.17,44.70 86.83,44.66 87.50,44.71 88.17,44.61 88.83,44.52 89.50,44.46 90.17,44.36 90.83,44.21 91.50,44.13 92.17,44.06 92.83,44.10 93.50,44.31 94.17,44.36 94.83,44.45 95.50,44.45 96.17,44.54 96.83,44.53 97.50,44.55 98.17,44.42 98.83,44.47 99.50,44.49 100.17,44.56 100.83,44.43 101.50,44.31 102.17,44.34 102.83,44.39 103.50,44.19 104.17,44.22 104.83,44.05 105.50,43.99 106.17,43.86 106.83,43.11 107.50,41.17 108.17,38.28 108.83,39.59 109.50,42.45 110.17,43.57 110.83,43.70 111.50,43.83 112.17,43.82 112.83,43.74 113.50,43.72 114.17,43.77 114.83,43.86 115.50,43.90 116.17,43.76 116.83,43.78 117.50,43.73 118.17,43.69 118.83,43.82 119.50,43.74 120.17,43.83 120.83,43.87 121.50,43.92 122.17,43.84 122.83,43.85 123.50,43.64 124.17,43.58 124.83,43.33 125.50,42.60 126.17,41.16 126.83,41.15 127.50,42.42 128.17,43.28 128.83,43.41 129.50,43.52 130.17,43.50 130.83,43.72 131.50,43.62 132.17,43.64 132.83,43.66 133.50,43.62 134.17,43.56 134.83,43.45 135.50,43.22 136.17,42.21 136.83,40.38 137.50,40.34 138.17,42.09 138.83,42.80 139.50,43.01 140.17,43.12 140.83,43.17 141.50,43.14 142.17,43.05 142.83,43.11 143.50,43.03 144.17,43.05 144.83,43.25 145.50,43.25 146.17,43.42 146.83,43.35 147.50,43.28 148.17,43.03 148.83,43.11 149.50,43.10 150.17,42.93 150.83,43.01 151.50,42.90 152.17,42.87 152.83,42.65 153.50,42.44 154.17,42.19 154.83,41.55 155.50,39.94 156.17,37.54 156.83,38.58 157.50,41.05 158.17,41.91 158.83,41.83 159.50,41.26 160.17,40.39 160.83,40.93 161.50,41.80 162.17,42.11 162.83,42.25 163.50,42.27 164.17,42.26 164.83,42.30 165.50,42.37 166.17,42.30 166.83,42.17 167.50,42.02 168.17,41.94 168.83,41.50 169.50,40.50 170.17,40.11 170.83,40.99 171.50,41.53 172.17,41.71 172.83,41.86 173.50,42.00 174.17,42.01 174.83,41.80 175.50,41.69 176.17,41.35 176.83,40.89 177.50,39.06 178.17,34.97 178.83,33.08 179.50,37.13 180.17,40.23 180.83,41.01 181.50,41.46 182.17,41.61 182.83,41.53 183.50,41.53 184.17,41.47 184.83,41.59 185.50,41.59 186.17,41.65 186.83,41.63 187.50,41.55 188.17,41.62 188.83,41.46 189.50,41.06 190.17,40.11 190.83,39.69 191.50,40.50 192.17,41.21 192.83,41.42 193.50,41.54 194.17,41.39 194.83,41.28 195.50,41.20 196.17,41.22 196.83,41.37 197.50,41.33 198.17,41.38 198.83,41.34 199.50,41.41 200.17,41.46 200.83,41.32 201.50,41.23 202.17,41.19 202.83,41.05 203.50,40.82 204.17,40.66 204.83,40.63 205.50,40.36 206.17,39.72 206.83,38.31 207.50,38.48 208.17,40.02 208.83,40.72 209.50,40.91 210.17,41.10 210.83,41.02 211.50,41.14 212.17,41.04 212.83,41.03 213.50,40.81 214.17,40.43 214.83,39.87 215.50,40.01 216.17,40.63 216.83,40.67 217.50,40.66 218.17,40.75 218.83,40.59 219.50,40.50 220.17,40.62 220.83,40.63 221.50,40.53 222.17,40.35 222.83,39.68 223.50,38.57 224.17,38.96 224.83,39.94 225.50,40.31 226.17,40.24 226.83,40.50 227.50,40.55 228.17,40.52 228.83,40.63 229.50,40.66 230.17,40.57 230.83,40.57 231.50,40.51 232.17,40.22 232.83,39.58 233.50,37.64 234.17,36.03 234.83,37.60 235.50,39.31 236.17,39.80 236.83,40.01 237.50,40.09 238.17,40.29 238.83,40.33 239.50,40.38 240.17,40.40 240.83,40.35 241.50,40.24 242.17,39.79 242.83,38.56 243.50,38.08 244.17,39.22 244.83,39.88 245.50,40.07 246.17,40.03 246.83,40.21 247.50,40.18 248.17,40.31 248.83,40.17 249.50,40.04 250.17,39.38 250.83,37.96 251.50,37.88 252.17,39.20 252.83,39.91 253.50,40.10 254.17,40.15 254.83,40.11 255.50,40.22 256.17,40.14 256.83,40.04 257.50,40.05 258.17,39.99 258.83,39.57 259.50,39.14 260.17,38.91 260.83,39.46 261.50,39.99 262.17,40.16 262.83,40.37 263.50,40.30 264.17,40.46 264.83,40.45 265.50,40.31 266.17,40.11 266.83,40.02 267.50,40.00 268.17,40.12 268.83,40.03 269.50,40.13 270.17,40.05 270.83,40.11 271.50,40.16 272.17,40.16 272.83,40.24 273.50,40.14 274.17,40.20 274.83,40.36 275.50,40.40 276.17,40.47 276.83,40.31 277.50,40.21 278.17,40.00 278.83,39.82 279.50,39.35 280.17,39.27 280.83,39.80 281.50,40.10 282.17,40.19 282.83,40.10 283.50,40.22 284.17,40.12 284.83,40.10 285.50,40.13 286.17,40.26 286.83,40.33 287.50,40.13 288.17,40.01 288.83,39.90 289.50,39.79 290.17,39.50 290.83,39.21 291.50,38.86 292.17,38.44 292.83,37.96 293.50,37.75 294.17,38.01 294.83,38.41 295.50,38.91 296.17,39.08 296.83,39.37 297.50,39.25 298.17,39.34 298.83,39.31 299.50,39.20 300.17,38.47 300.83,37.14 301.50,35.25 302.17,34.03 302.83,34.58 303.50,36.09 304.17,36.86 304.83,37.26 305.50,37.39 306.17,37.60 306.83,37.84 307.50,38.08 308.17,38.41 308.83,38.62 309.50,38.95 310.17,39.14 310.83,39.15 311.50,39.27 312.17,39.44 312.83,39.49 313.50,39.52 314.17,39.81 314.83,39.87 315.50,39.95 316.17,39.95 316.83,40.15 317.50,39.93 318.17,39.80 318.83,39.70 319.50,39.66 320.17,39.67 320.83,39.80 321.50,39.89 322.17,39.73 322.83,39.74 323.50,39.54 324.17,39.61 324.83,39.67 325.50,39.78 326.17,39.74 326.83,39.72 327.50,39.58 328.17,39.56 328.83,39.42 329.50,39.29 330.17,39.14 330.83,38.93 331.50,38.85 332.17,38.69 332.83,38.28 333.50,37.74 334.17,37.10 334.83,37.24 335.50,37.80 336.17,38.45 336.83,38.89 337.50,38.83 338.17,38.76 338.83,38.64 339.50,38.24 340.17,37.46 340.83,36.44 341.50,35.27 342.17,34.45 342.83,34.76 343.50,35.90 344.17,36.97 344.83,37.92 345.50,38.46 346.17,38.64 346.83,38.92 347.50,38.86 348.17,38.92 348.83,38.64 349.50,37.89 350.17,37.50 350.83,38.11 351.50,38.44 352.17,38.59 352.83,38.80 353.50,38.85 354.17,38.88 354.83,38.94 355.50,38.82 356.17,38.50 356.83,37.88 357.50,37.20 358.17,36.05 358.83,35.11 359.50,35.14 360.17,35.86 360.83,36.70 361.50,37.54 362.17,38.11 362.83,38.35 363.50,38.53 364.17,38.64 364.83,38.71 365.50,38.86 366.17,38.81 366.83,38.64 367.50,38.80 368.17,38.75 368.83,38.85 369.50,38.57 370.17,38.28 370.83,37.84 371.50,37.49 372.17,37.68 372.83,38.04 373.50,38.25 374.17,38.39 374.83,38.49 375.50,38.55 376.17,38.71 376.83,38.69 377.50,38.85 378.17,38.86 378.83,38.81 379.50,38.87 380.17,38.98 380.83,38.92 381.50,38.94 382.17,38.98 382.83,38.81 383.50,38.77 384.17,38.58 384.83,38.13 385.50,37.47 386.17,36.55 386.83,36.00 387.50,36.03 388.17,36.59 388.83,37.50 389.50,38.17 390.17,38.51 390.83,38.69 391.50,38.59 392.17,38.48 392.83,38.30 393.50,38.26 394.17,38.37 394.83,38.21 395.50,38.15 396.17,38.19 396.83,38.01 397.50,38.05 398.17,38.09 398.83,38.14 399.50,37.97 400.17,37.73 400.83,37.72 401.50,37.34 402.17,37.40 402.83,37.44 403.50,37.58 404.17,37.50 404.83,37.55 405.50,37.66 406.17,37.77 406.83,37.82 407.50,38.05 408.17,38.01 408.83,37.98 409.50,37.78 410.17,37.72 410.83,37.82 411.50,37.60 412.17,37.40 412.83,36.48 413.50,35.47 414.17,34.72 414.83,34.95 415.50,36.12 416.17,37.03 416.83,37.70 417.50,38.18 418.17,38.31 418.83,38.30 419.50,38.35 420.17,38.42 420.83,38.37 421.50,38.25 422.17,38.29 422.83,37.99 423.50,37.77 424.17,37.09 424.83,36.22 425.50,35.50 426.17,35.51 426.83,36.25 427.50,36.98 428.17,37.43 428.83,37.70 429.50,37.60 430.17,37.28 430.83,36.68 431.50,37.01 432.17,37.88 432.83,38.22 433.50,38.31 434.17,38.48 434.83,38.27 435.50,38.32 436.17,38.18 436.83,38.22 437.50,38.19 438.17,38.21 438.83,38.35" fill="none" stroke="#108c10" stroke-width="1.55" stroke-linejoin="round"/></g>
<circle cx="45.3" cy="26.1" r="2.9" fill="#ee1111"/>
<rect x="43.75" y="29.35" width="3.7" height="3.7" fill="#ffee00"/>
<rect x="63.05" y="27.75" width="3.7" height="3.7" fill="#ffee00"/>
<rect x="74.15" y="30.45" width="3.7" height="3.7" fill="#ff7700"/>
<rect x="80.65" y="25.15" width="3.7" height="3.7" fill="#9922ee"/>
<rect x="80.45" y="31.05" width="3.7" height="3.7" fill="#ffee00"/>
<circle cx="93.7" cy="13.0" r="2.9" fill="#ee1111"/>
<rect x="94.35" y="26.75" width="3.7" height="3.7" fill="#22eeee"/>
<rect x="94.35" y="32.15" width="3.7" height="3.7" fill="#ffee00"/>
<rect x="97.65" y="15.75" width="3.7" height="3.7" fill="#9922ee"/>
<rect x="100.15" y="33.15" width="3.7" height="3.7" fill="#ffee00"/>
<rect x="104.35" y="17.55" width="3.7" height="3.7" fill="#9922ee"/>
<circle cx="106.2" cy="26.5" r="2.9" fill="#ee1111"/>
<circle cx="114.4" cy="33.7" r="2.9" fill="#ff22ee"/>
<rect x="122.45" y="30.65" width="3.7" height="3.7" fill="#22eeee"/>
<circle cx="129.2" cy="38.0" r="2.9" fill="#1133ee"/>
<circle cx="133.8" cy="27.3" r="2.9" fill="#ee1111"/>
<rect x="132.25" y="31.45" width="3.7" height="3.7" fill="#ffee00"/>
<circle cx="140.0" cy="29.2" r="2.9" fill="#ff22ee"/>
<rect x="144.15" y="26.15" width="3.7" height="3.7" fill="#22eeee"/>
<circle cx="151.0" cy="29.9" r="2.9" fill="#22dd22"/>
<circle cx="151.0" cy="36.0" r="2.9" fill="#ee1111"/>
<rect x="154.15" y="33.45" width="3.7" height="3.7" fill="#ffee00"/>
<rect x="166.25" y="31.95" width="3.7" height="3.7" fill="#9922ee"/>
<rect x="174.15" y="27.85" width="3.7" height="3.7" fill="#ffee00"/>
<rect x="182.45" y="29.45" width="3.7" height="3.7" fill="#ffee00"/>
<rect x="199.25" y="29.05" width="3.7" height="3.7" fill="#ffee00"/>
<rect x="203.75" y="4.75" width="3.7" height="3.7" fill="#ff7700"/>
<circle cx="205.6" cy="13.3" r="2.9" fill="#ee1111"/>
<rect x="207.55" y="22.65" width="3.7" height="3.7" fill="#ffee00"/>
<circle cx="209.6" cy="31.3" r="2.9" fill="#1133ee"/>
<rect x="214.15" y="27.75" width="3.7" height="3.7" fill="#9922ee"/>
<circle cx="223.2" cy="31.3" r="2.9" fill="#ee1111"/>
<rect x="231.15" y="30.05" width="3.7" height="3.7" fill="#ff7700"/>
<rect x="246.55" y="20.55" width="3.7" height="3.7" fill="#9922ee"/>
<circle cx="249.3" cy="29.3" r="2.9" fill="#ee1111"/>
<circle cx="255.2" cy="31.6" r="2.9" fill="#22dd22"/>
<circle cx="258.6" cy="26.2" r="2.9" fill="#ee1111"/>
<line x1="22.5" y1="25.6" x2="22.5" y2="223" stroke="#000" stroke-width="1.3"/>
<line x1="21.8" y1="221.8" x2="264" y2="221.8" stroke="#000" stroke-width="1.6"/>
<line x1="22.3" y1="221.8" x2="22.3" y2="224.70000000000002" stroke="#000" stroke-width="1.1"/>
<line x1="48.5" y1="221.8" x2="48.5" y2="223.8" stroke="#000" stroke-width="1.1"/>
<line x1="74.8" y1="221.8" x2="74.8" y2="224.70000000000002" stroke="#000" stroke-width="1.1"/>
<line x1="101.0" y1="221.8" x2="101.0" y2="223.8" stroke="#000" stroke-width="1.1"/>
<line x1="127.3" y1="221.8" x2="127.3" y2="224.70000000000002" stroke="#000" stroke-width="1.1"/>
<line x1="153.6" y1="221.8" x2="153.6" y2="223.8" stroke="#000" stroke-width="1.1"/>
<line x1="179.8" y1="221.8" x2="179.8" y2="224.70000000000002" stroke="#000" stroke-width="1.1"/>
<line x1="206.1" y1="221.8" x2="206.1" y2="223.8" stroke="#000" stroke-width="1.1"/>
<line x1="232.3" y1="221.8" x2="232.3" y2="224.70000000000002" stroke="#000" stroke-width="1.1"/>
<line x1="258.6" y1="221.8" x2="258.6" y2="223.8" stroke="#000" stroke-width="1.1"/>
<polygon points="21.3,124.7 24.2,121.6 24.2,123.8 21.3,127.0" fill="#fff"/>
<g stroke="#000" stroke-width="1.1"><line x1="19.1" y1="126.4" x2="25.9" y2="119.3"/><line x1="19.1" y1="129.6" x2="25.9" y2="122.4"/></g>
<text transform="translate(22.3,239.6) scale(1,1.04)" class="tk" text-anchor="middle">20</text>
<text transform="translate(74.8,239.6) scale(1,1.04)" class="tk" text-anchor="middle">30</text>
<text transform="translate(127.3,239.6) scale(1,1.04)" class="tk" text-anchor="middle">40</text>
<text transform="translate(179.8,239.6) scale(1,1.04)" class="tk" text-anchor="middle">50</text>
<text transform="translate(232.3,239.6) scale(1,1.04)" class="tk" text-anchor="middle">60</text>
<text transform="translate(103,252.9) scale(1,1.04)" class="tk" style="font-size:14.9px;">2<tspan dx="-0.4" font-weight="normal">θ</tspan><tspan dx="-0.7">, degrees</tspan></text>
<text transform="translate(13.0,192.2) rotate(-90) scale(1,1.04)" class="tk" style="font-size:15.3px;stroke-width:0">Intensity, arb.units</text>
<text transform="translate(7.8,28.7) scale(1,1.04)" class="lb" style="font-size:15px;">a)</text>
<text transform="translate(262.5,33.3) scale(1,1.04)" class="lb" style="font-size:14px;">4</text>
<text transform="translate(261.6,62.8) scale(1,1.04)" class="lb" style="font-size:14px;">3</text>
<text transform="translate(263.2,95) scale(1,1.04)" class="lb" style="font-size:14px;">2</text>
<path d="M811 0H530V1059Q376 912 167 842V1097Q277 1133 406 1233Q535 1334 583 1466H811V0Z" transform="translate(261.00,185.6) scale(0.006836,-0.007109)" fill="#000" stroke="#000" stroke-width="36.6"/>
<polyline points="323.3,48.7 377.1,89.6 430.9,106.2 484.7,151.4 538.5,218.3" fill="none" stroke="#22ee22" stroke-width="1.1"/>
<polygon points="446.4,115 449.5,115 449.5,126 446.4,126" fill="#fff"/>
<polyline points="323.3,206.6 377.1,218.3 430.9,218.3 484.7,218.3 538.5,218.3" fill="none" stroke="#22ee22" stroke-width="1.1"/>
<polyline points="323.3,218.3 377.1,213.0 430.9,211.7 484.7,203.5 538.5,206.7" fill="none" stroke="#33eeee" stroke-width="1.1"/>
<polyline points="323.3,218.3 377.1,218.3 430.9,218.3 484.7,215.6 538.5,211.4" fill="none" stroke="#ff9a50" stroke-width="1.1"/>
<polyline points="323.3,218.3 377.1,218.3 430.9,218.3 484.7,186.8 538.5,171.0" fill="none" stroke="#aa44ff" stroke-width="1.1"/>
<polyline points="323.3,218.3 377.1,204.4 430.9,199.2 484.7,218.3 538.5,218.3" fill="none" stroke="#aa44ff" stroke-width="1.1"/>
<polyline points="323.3,218.3 377.1,209.5 430.9,199.3 484.7,167.2 538.5,154.8" fill="none" stroke="#ffff44" stroke-width="1.1"/>
<polyline points="323.3,218.3 377.1,198.4 430.9,193.6 484.7,143.8 538.5,130.7" fill="none" stroke="#ff4444" stroke-width="1.1"/>
<polyline points="323.3,218.3 377.1,218.3 430.9,218.3 484.7,218.3 538.5,193.9" fill="none" stroke="#ff33ff" stroke-width="1.1"/>
<circle cx="323.3" cy="48.7" r="2.15" fill="#22dd22" stroke="#118811" stroke-width="0.35"/>
<circle cx="377.1" cy="89.6" r="2.15" fill="#22dd22" stroke="#118811" stroke-width="0.35"/>
<circle cx="430.9" cy="106.2" r="2.15" fill="#22dd22" stroke="#118811" stroke-width="0.35"/>
<circle cx="484.7" cy="151.4" r="2.15" fill="#22dd22" stroke="#118811" stroke-width="0.35"/>
<circle cx="538.5" cy="218.3" r="2.15" fill="#22dd22" stroke="#118811" stroke-width="0.35"/>
<rect x="321.6" y="204.9" width="3.4" height="3.4" fill="#22dd22" stroke="#118811" stroke-width="0.35"/>
<rect x="375.4" y="216.6" width="3.4" height="3.4" fill="#22dd22" stroke="#118811" stroke-width="0.35"/>
<rect x="429.2" y="216.6" width="3.4" height="3.4" fill="#22dd22" stroke="#118811" stroke-width="0.35"/>
<rect x="483.0" y="216.6" width="3.4" height="3.4" fill="#22dd22" stroke="#118811" stroke-width="0.35"/>
<rect x="536.8" y="216.6" width="3.4" height="3.4" fill="#22dd22" stroke="#118811" stroke-width="0.35"/>
<rect x="321.6" y="216.6" width="3.4" height="3.4" fill="#22eeee" stroke="#118888" stroke-width="0.35"/>
<rect x="375.4" y="211.3" width="3.4" height="3.4" fill="#22eeee" stroke="#118888" stroke-width="0.35"/>
<rect x="429.2" y="210.0" width="3.4" height="3.4" fill="#22eeee" stroke="#118888" stroke-width="0.35"/>
<rect x="483.0" y="201.8" width="3.4" height="3.4" fill="#22eeee" stroke="#118888" stroke-width="0.35"/>
<rect x="536.8" y="205.0" width="3.4" height="3.4" fill="#22eeee" stroke="#118888" stroke-width="0.35"/>
<rect x="321.6" y="216.6" width="3.4" height="3.4" fill="#ff7700" stroke="#994400" stroke-width="0.35"/>
<rect x="375.4" y="216.6" width="3.4" height="3.4" fill="#ff7700" stroke="#994400" stroke-width="0.35"/>
<rect x="429.2" y="216.6" width="3.4" height="3.4" fill="#ff7700" stroke="#994400" stroke-width="0.35"/>
<rect x="483.0" y="213.9" width="3.4" height="3.4" fill="#ff7700" stroke="#994400" stroke-width="0.35"/>
<rect x="536.8" y="209.7" width="3.4" height="3.4" fill="#ff7700" stroke="#994400" stroke-width="0.35"/>
<circle cx="323.3" cy="218.3" r="2.15" fill="#1133ee" stroke="#000088" stroke-width="0.35"/>
<circle cx="377.1" cy="218.3" r="2.15" fill="#1133ee" stroke="#000088" stroke-width="0.35"/>
<circle cx="430.9" cy="218.3" r="2.15" fill="#1133ee" stroke="#000088" stroke-width="0.35"/>
<circle cx="484.7" cy="186.8" r="2.15" fill="#1133ee" stroke="#000088" stroke-width="0.35"/>
<circle cx="538.5" cy="171.0" r="2.15" fill="#1133ee" stroke="#000088" stroke-width="0.35"/>
<rect x="321.6" y="216.6" width="3.4" height="3.4" fill="#9922ee" stroke="#551188" stroke-width="0.35"/>
<rect x="375.4" y="202.7" width="3.4" height="3.4" fill="#9922ee" stroke="#551188" stroke-width="0.35"/>
<rect x="429.2" y="197.5" width="3.4" height="3.4" fill="#9922ee" stroke="#551188" stroke-width="0.35"/>
<rect x="483.0" y="216.6" width="3.4" height="3.4" fill="#9922ee" stroke="#551188" stroke-width="0.35"/>
<rect x="536.8" y="216.6" width="3.4" height="3.4" fill="#9922ee" stroke="#551188" stroke-width="0.35"/>
<rect x="321.6" y="216.6" width="3.4" height="3.4" fill="#ffee00" stroke="#998800" stroke-width="0.35"/>
<rect x="375.4" y="207.8" width="3.4" height="3.4" fill="#ffee00" stroke="#998800" stroke-width="0.35"/>
<rect x="429.2" y="197.6" width="3.4" height="3.4" fill="#ffee00" stroke="#998800" stroke-width="0.35"/>
<rect x="483.0" y="165.5" width="3.4" height="3.4" fill="#ffee00" stroke="#998800" stroke-width="0.35"/>
<rect x="536.8" y="153.1" width="3.4" height="3.4" fill="#ffee00" stroke="#998800" stroke-width="0.35"/>
<circle cx="323.3" cy="218.3" r="2.15" fill="#ee1111" stroke="#990000" stroke-width="0.35"/>
<circle cx="377.1" cy="198.4" r="2.15" fill="#ee1111" stroke="#990000" stroke-width="0.35"/>
<circle cx="430.9" cy="193.6" r="2.15" fill="#ee1111" stroke="#990000" stroke-width="0.35"/>
<circle cx="484.7" cy="143.8" r="2.15" fill="#ee1111" stroke="#990000" stroke-width="0.35"/>
<circle cx="538.5" cy="130.7" r="2.15" fill="#ee1111" stroke="#990000" stroke-width="0.35"/>
<circle cx="323.3" cy="218.3" r="2.15" fill="#ff22ee" stroke="#991188" stroke-width="0.35"/>
<circle cx="377.1" cy="218.3" r="2.15" fill="#ff22ee" stroke="#991188" stroke-width="0.35"/>
<circle cx="430.9" cy="218.3" r="2.15" fill="#ff22ee" stroke="#991188" stroke-width="0.35"/>
<circle cx="484.7" cy="218.3" r="2.15" fill="#ff22ee" stroke="#991188" stroke-width="0.35"/>
<circle cx="538.5" cy="193.9" r="2.15" fill="#ff22ee" stroke="#991188" stroke-width="0.35"/>
<line x1="318.3" y1="38.5" x2="318.3" y2="221.8" stroke="#000" stroke-width="1.3"/>
<line x1="317.6" y1="221.1" x2="543.6" y2="221.1" stroke="#000" stroke-width="1.5"/>
<line x1="323.3" y1="221.1" x2="323.3" y2="223.5" stroke="#000" stroke-width="1.1"/>
<line x1="350.2" y1="221.1" x2="350.2" y2="222.9" stroke="#000" stroke-width="1.1"/>
<line x1="377.1" y1="221.1" x2="377.1" y2="223.5" stroke="#000" stroke-width="1.1"/>
<line x1="404.0" y1="221.1" x2="404.0" y2="222.9" stroke="#000" stroke-width="1.1"/>
<line x1="430.9" y1="221.1" x2="430.9" y2="223.5" stroke="#000" stroke-width="1.1"/>
<line x1="457.8" y1="221.1" x2="457.8" y2="222.9" stroke="#000" stroke-width="1.1"/>
<line x1="484.7" y1="221.1" x2="484.7" y2="223.5" stroke="#000" stroke-width="1.1"/>
<line x1="511.6" y1="221.1" x2="511.6" y2="222.9" stroke="#000" stroke-width="1.1"/>
<line x1="538.5" y1="221.1" x2="538.5" y2="223.5" stroke="#000" stroke-width="1.1"/>
<line x1="315.3" y1="218.3" x2="318.3" y2="218.3" stroke="#000" stroke-width="1.1"/>
<line x1="316.3" y1="194.4" x2="318.3" y2="194.4" stroke="#000" stroke-width="1.1"/>
<line x1="315.3" y1="170.5" x2="318.3" y2="170.5" stroke="#000" stroke-width="1.1"/>
<line x1="316.3" y1="109.1" x2="318.3" y2="109.1" stroke="#000" stroke-width="1.1"/>
<line x1="315.3" y1="85.2" x2="318.3" y2="85.2" stroke="#000" stroke-width="1.1"/>
<line x1="316.3" y1="61.3" x2="318.3" y2="61.3" stroke="#000" stroke-width="1.1"/>
<g stroke="#000" stroke-width="1"><line x1="314.3" y1="121.8" x2="321.8" y2="117.4"/><line x1="314.3" y1="124.6" x2="321.8" y2="120.2"/></g>
<rect x="317.5" y="119.6" width="1.6" height="2.2" fill="#fff"/>
<text transform="translate(312,222.2) scale(1,1.04)" class="tk" text-anchor="end">0</text>
<text transform="translate(312,174.4) scale(1,1.04)" class="tk" text-anchor="end">20</text>
<text transform="translate(312.3,89.1) scale(1,1.04)" class="tk" text-anchor="end">80</text>
<text transform="translate(323.3,238.5) scale(1,1.04)" class="tk" text-anchor="middle">0</text>
<path d="M811 0H530V1059Q376 912 167 842V1097Q277 1133 406 1233Q535 1334 583 1466H811V0Z" transform="translate(368.87,238.5) scale(0.007227,-0.007516)" fill="#000" stroke="#000" stroke-width="20.8"/>
<text transform="translate(377.10,238.5) scale(1,1.04)" class="tk">0</text>
<text transform="translate(430.9,238.5) scale(1,1.04)" class="tk" text-anchor="middle">20</text>
<text transform="translate(484.7,238.5) scale(1,1.04)" class="tk" text-anchor="middle">30</text>
<text transform="translate(538.5,238.5) scale(1,1.04)" class="tk" text-anchor="middle">40</text>
<text transform="translate(361.7,251.0) scale(1,1.04)" class="tk" style="font-size:15px;">Oxidation time, min</text>
<text transform="translate(290.5,201.3) rotate(-90) scale(1,1.04)" class="tk" style="font-size:15px;">Phase content, wt.%</text>
<text transform="translate(299.2,43.7) scale(1,1.04)" class="lb" style="font-size:15px;">b)</text>
<line x1="380.2" y1="22.9" x2="399.7" y2="22.9" stroke="#c080ff" stroke-width="1"/>
<circle cx="390.2" cy="22.9" r="2.1" fill="#1133ee" stroke="#000088" stroke-width="0.35"/>
<text x="402.2" y="25.799999999999997" class="lg"><tspan dy="0">Cr</tspan><tspan font-size="5.8" dy="2.2">2</tspan><tspan dy="-2.2">N</tspan></text>
<line x1="380.2" y1="35.6" x2="399.7" y2="35.6" stroke="#ffa060" stroke-width="1"/>
<rect x="388.6" y="34.0" width="3.2" height="3.2" fill="#ff7700" stroke="#994400" stroke-width="0.35"/>
<text x="402.2" y="38.5" class="lg"><tspan dy="0">ZrO</tspan><tspan font-size="5.8" dy="2.2">2</tspan><tspan dy="-2.2"> tetragonal</tspan></text>
<line x1="380.2" y1="48.0" x2="399.7" y2="48.0" stroke="#ff60ff" stroke-width="1"/>
<circle cx="390.2" cy="48.0" r="2.1" fill="#ff22ee" stroke="#991188" stroke-width="0.35"/>
<text x="402.2" y="50.9" class="lg"><tspan dy="0">CrN</tspan></text>
<line x1="380.2" y1="60.4" x2="399.7" y2="60.4" stroke="#ffff60" stroke-width="1"/>
<rect x="388.6" y="58.8" width="3.2" height="3.2" fill="#ffee00" stroke="#998800" stroke-width="0.35"/>
<text x="402.2" y="63.3" class="lg"><tspan dy="0">ZrO</tspan><tspan font-size="5.8" dy="2.2">2</tspan><tspan dy="-2.2"> monoclinic</tspan></text>
<line x1="380.2" y1="73.2" x2="399.7" y2="73.2" stroke="#50f0f0" stroke-width="1"/>
<rect x="388.6" y="71.6" width="3.2" height="3.2" fill="#22eeee" stroke="#118888" stroke-width="0.35"/>
<text x="402.2" y="76.10000000000001" class="lg"><tspan dy="0">ZrN</tspan></text>
<line x1="486.8" y1="23.0" x2="506.3" y2="23.0" stroke="#40e040" stroke-width="1"/>
<circle cx="496.8" cy="23.0" r="2.1" fill="#22dd22" stroke="#118811" stroke-width="0.35"/>
<text x="508.8" y="25.9" class="lg"><tspan dy="0">Cr</tspan></text>
<line x1="486.8" y1="33.6" x2="506.3" y2="33.6" stroke="#40e040" stroke-width="1"/>
<rect x="495.2" y="32.0" width="3.2" height="3.2" fill="#22dd22" stroke="#118811" stroke-width="0.35"/>
<text x="508.8" y="36.5" class="lg"><tspan dy="0">Zr</tspan></text>
<line x1="486.8" y1="44.4" x2="506.3" y2="44.4" stroke="#c080ff" stroke-width="1"/>
<rect x="495.2" y="42.8" width="3.2" height="3.2" fill="#9922ee" stroke="#551188" stroke-width="0.35"/>
<text x="508.8" y="47.3" class="lg"><tspan dy="0">Zr</tspan><tspan font-size="5.8" dy="2.2">3</tspan><tspan dy="-2.2">O</tspan></text>
<line x1="486.8" y1="56.8" x2="506.3" y2="56.8" stroke="#ff8080" stroke-width="1"/>
<circle cx="496.8" cy="56.8" r="2.1" fill="#ee1111" stroke="#990000" stroke-width="0.35"/>
<text x="508.8" y="59.699999999999996" class="lg"><tspan dy="0">Cr</tspan><tspan font-size="5.8" dy="2.2">2</tspan><tspan dy="-2.2">O</tspan><tspan font-size="5.8" dy="2.2">3</tspan></text>
</svg></body></html>
